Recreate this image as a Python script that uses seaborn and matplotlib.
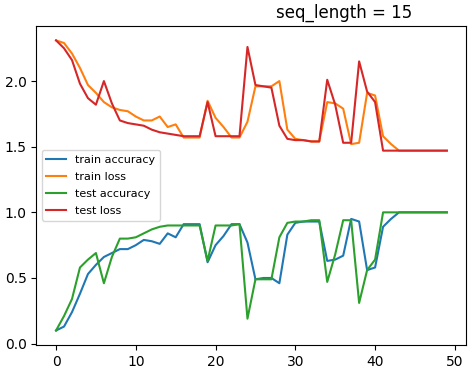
import numpy as np
import pandas as pd
import seaborn as sns
import matplotlib
matplotlib.use("Agg")
import matplotlib.pyplot as plt

epochs = list(range(50))

train_accuracy = [0.10, 0.13, 0.24, 0.38, 0.53, 0.60, 0.66, 0.69, 0.72, 0.72,
                  0.75, 0.79, 0.78, 0.76, 0.84, 0.81, 0.91, 0.91, 0.91, 0.62,
                  0.75, 0.82, 0.91, 0.91, 0.77, 0.49, 0.50, 0.50, 0.46, 0.83,
                  0.92, 0.93, 0.93, 0.93, 0.63, 0.64, 0.67, 0.95, 0.93, 0.56,
                  0.58, 0.89, 0.95, 1.00, 1.00, 1.00, 1.00, 1.00, 1.00, 1.00]
train_loss = [2.31, 2.29, 2.21, 2.10, 1.97, 1.91, 1.84, 1.80, 1.78, 1.77,
              1.73, 1.70, 1.70, 1.73, 1.65, 1.67, 1.57, 1.57, 1.57, 1.85,
              1.72, 1.65, 1.57, 1.57, 1.69, 1.96, 1.96, 1.96, 2.00, 1.63,
              1.56, 1.55, 1.54, 1.54, 1.84, 1.83, 1.79, 1.52, 1.53, 1.91,
              1.89, 1.58, 1.52, 1.47, 1.47, 1.47, 1.47, 1.47, 1.47, 1.47]
test_accuracy = [0.10, 0.21, 0.34, 0.58, 0.64, 0.69, 0.46, 0.66, 0.80, 0.80,
                 0.81, 0.84, 0.87, 0.89, 0.90, 0.90, 0.90, 0.90, 0.90, 0.63,
                 0.90, 0.90, 0.90, 0.91, 0.19, 0.49, 0.49, 0.49, 0.81, 0.92,
                 0.93, 0.93, 0.94, 0.94, 0.47, 0.68, 0.94, 0.94, 0.31, 0.56,
                 0.64, 1.00, 1.00, 1.00, 1.00, 1.00, 1.00, 1.00, 1.00, 1.00]
test_loss = [2.31, 2.25, 2.16, 1.98, 1.87, 1.82, 2.00, 1.83, 1.70, 1.68,
             1.67, 1.66, 1.63, 1.61, 1.60, 1.59, 1.58, 1.58, 1.58, 1.84,
             1.58, 1.58, 1.58, 1.58, 2.26, 1.97, 1.96, 1.95, 1.66, 1.56,
             1.55, 1.55, 1.54, 1.54, 2.01, 1.82, 1.53, 1.53, 2.15, 1.92,
             1.84, 1.47, 1.47, 1.47, 1.47, 1.47, 1.47, 1.47, 1.47, 1.47]

series_names = ["train accuracy", "train loss", "test accuracy", "test loss"]
series_values = [train_accuracy, train_loss, test_accuracy, test_loss]

df = pd.DataFrame({
    "epoch": np.tile(epochs, len(series_names)),
    "value": np.concatenate(series_values),
    "series": np.repeat(series_names, len(epochs)),
})

fig, ax = plt.subplots(figsize=(4.74, 3.75), dpi=100)
sns.lineplot(data=df, x="epoch", y="value", hue="series", hue_order=series_names,
             palette=["#1f77b4", "#ff7f0e", "#2ca02c", "#d62728"], ax=ax, linewidth=1.5)
ax.set_title("seq_length = 15", x=0.716, fontsize=12)
ax.set_xlabel("")
ax.set_ylabel("")
ax.set_xticks([0, 10, 20, 30, 40, 50])
ax.set_yticks([0.0, 0.5, 1.0, 1.5, 2.0])
ax.tick_params(labelsize=10)
ax.legend(loc="center left", title=None, fontsize=8, handlelength=1.8,
          labelspacing=0.65)
fig.subplots_adjust(left=0.077, right=0.984, top=0.931, bottom=0.08)
fig.savefig("out.png", dpi=100)
